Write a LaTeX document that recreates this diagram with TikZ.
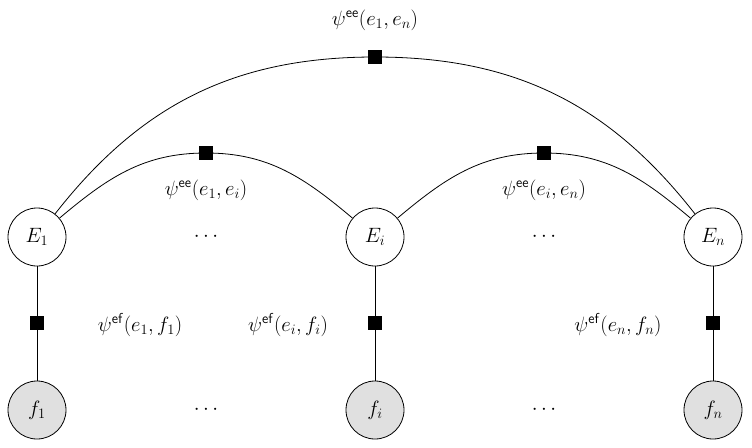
\documentclass[tikz,border=0pt]{standalone}
\begin{document}
\begin{tikzpicture}[x=1pt,y=-1pt,
  var/.style={circle,draw,line width=0.8pt,minimum size=58pt,inner sep=0pt,font=\fontsize{20}{24}\selectfont},
  obs/.style={var,fill=black!12},
  fac/.style={rectangle,fill=black,minimum size=14pt,inner sep=0pt},
  lab/.style={font=\fontsize{20}{24}\selectfont},
  edge/.style={line width=0.8pt}]
\useasboundingbox (0,0) rectangle (752,447);
\node[var] (E1) at (37,237) {$E_1$};
\node[var] (Ei) at (375,237) {$E_i$};
\node[var] (En) at (713,237) {$E_n$};
\node[obs] (f1) at (37,410) {$f_1$};
\node[obs] (fi) at (375,410) {$f_i$};
\node[obs] (fn) at (713,410) {$f_n$};
\node[fac] (g1) at (37,323) {};
\node[fac] (gi) at (375,323) {};
\node[fac] (gn) at (713,323) {};
\node[fac] (top) at (375,57) {};
\node[fac] (m1) at (206,153) {};
\node[fac] (m2) at (544,153) {};
\draw[edge] (E1) -- (g1) -- (f1);
\draw[edge] (Ei) -- (gi) -- (fi);
\draw[edge] (En) -- (gn) -- (fn);
\draw[edge] (E1) to[out=52,in=180] (top.center) to[out=0,in=128] (En);
\draw[edge] (E1) to[out=40,in=180] (m1.center) to[out=0,in=140] (Ei);
\draw[edge] (Ei) to[out=40,in=180] (m2.center) to[out=0,in=140] (En);
\node[lab] (l0) at (375,20) {$\psi^{\mathsf{ee}}(e_1,e_n)$};
\node[lab] (l1) at (206,190) {$\psi^{\mathsf{ee}}(e_1,e_i)$};
\node[lab] (l2) at (544,190) {$\psi^{\mathsf{ee}}(e_i,e_n)$};
\node[lab] (l3) at (140,325) {$\psi^{\mathsf{ef}}(e_1,f_1)$};
\node[lab] (l4) at (288,325) {$\psi^{\mathsf{ef}}(e_i,f_i)$};
\node[lab] (l5) at (618,325) {$\psi^{\mathsf{ef}}(e_n,f_n)$};
\node[lab] (d1) at (206,237) {$\cdots$};
\node[lab] (d2) at (544,237) {$\cdots$};
\node[lab] (d3) at (206,410) {$\cdots$};
\node[lab] (d4) at (544,410) {$\cdots$};
\end{tikzpicture}
\end{document}
